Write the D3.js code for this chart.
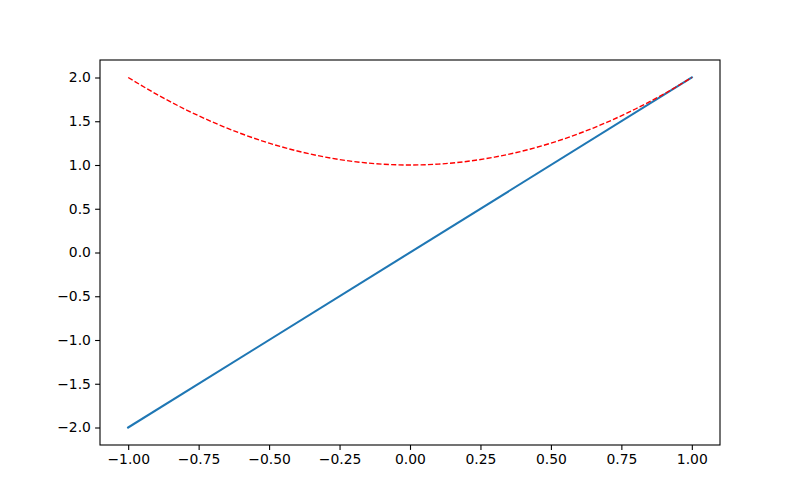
<!DOCTYPE html>
<html><head><meta charset="utf-8">
<script src="https://cdn.jsdelivr.net/npm/d3@7"></script>
<style>body{margin:0;background:#fff}svg{display:block}</style>
</head><body>
<svg id="chart" width="800" height="500"></svg>
<script>
// Data
const lineX = [-1.0, 1.0];
const lineY = [-2.0, 2.0];
const curveX = [-1.0,-0.9,-0.8,-0.7,-0.6,-0.5,-0.4,-0.3,-0.2,-0.1,0.0,0.1,0.2,0.3,0.4,0.5,0.6,0.7,0.8,0.9,1.0];
const curveY = [2.0,1.81,1.64,1.49,1.36,1.25,1.16,1.09,1.04,1.01,1.0,1.01,1.04,1.09,1.16,1.25,1.36,1.49,1.64,1.81,2.0];
const xTicks = [-1.0,-0.75,-0.5,-0.25,0.0,0.25,0.5,0.75,1.0];
const yTicks = [-2.0,-1.5,-1.0,-0.5,0.0,0.5,1.0,1.5,2.0];

const svg = d3.select("#chart");
const L = 100, R = 720, T = 60, B = 445;
const x = d3.scaleLinear().domain([-1.1, 1.1]).range([L, R]);
const y = d3.scaleLinear().domain([-2.2, 2.2]).range([B, T]);
const fmtX = v => d3.format(".2f")(v).replace("-", "\u2212");
const fmtY = v => d3.format(".1f")(v).replace("-", "\u2212");
const font = "DejaVu Sans, sans-serif";

const g = svg.append("g");
const clip = svg.append("clipPath").attr("id","clip").append("rect")
  .attr("x",L).attr("y",T).attr("width",R-L).attr("height",B-T);

const lineGen = d3.line().x(d => x(d[0])).y(d => y(d[1]));
const plot = svg.append("g").attr("clip-path","url(#clip)");
plot.append("path").datum(lineX.map((v,i)=>[v,lineY[i]]))
  .attr("d", lineGen).attr("fill","none").attr("stroke","#1f77b4")
  .attr("stroke-width",2.08).attr("stroke-linecap","square");
plot.append("path").datum(curveX.map((v,i)=>[v,curveY[i]]))
  .attr("d", lineGen.curve(d3.curveMonotoneX)).attr("fill","none").attr("stroke","red")
  .attr("stroke-width",1.39).attr("stroke-dasharray","5.15,2.22");

const xAxis = d3.axisBottom(x).tickValues(xTicks).tickFormat(fmtX).tickSize(4.9).tickPadding(4.2);
const yAxis = d3.axisLeft(y).tickValues(yTicks).tickFormat(fmtY).tickSize(4.9).tickPadding(4.2);
const gx = svg.append("g").attr("transform",`translate(0,${B})`).call(xAxis);
const gy = svg.append("g").attr("transform",`translate(${L},0)`).call(yAxis);
[gx, gy].forEach(a => {
  a.select(".domain").remove();
  a.selectAll("line").attr("stroke","#000").attr("stroke-width",1.1);
  a.selectAll("text").attr("fill","#000").style("font-family",font).style("font-size","13.9px");
});

svg.append("rect").attr("x",L).attr("y",T).attr("width",R-L).attr("height",B-T)
  .attr("fill","none").attr("stroke","#000").attr("stroke-width",1.1);
</script>
</body></html>
